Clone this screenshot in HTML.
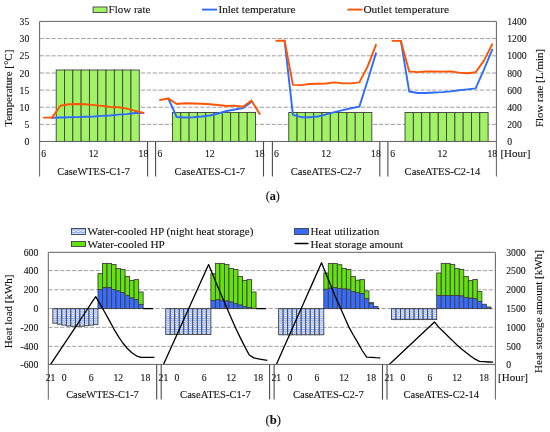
<!DOCTYPE html>
<html><head><meta charset="utf-8"><style>
html,body{margin:0;padding:0;background:#fff;}
svg{display:block;}
text{font-family:"Liberation Serif", "Times New Roman", serif;fill:#161616;stroke:#161616;stroke-width:0.12px;}
</style></head><body>
<svg width="550" height="432" viewBox="0 0 550 432">
<rect width="550" height="432" fill="#fff"/>
<defs>
<pattern id="hz" patternUnits="userSpaceOnUse" x="48.3" y="308.6" width="4.52" height="2.2">
<rect width="4.52" height="2.2" fill="#ffffff"/>
<path d="M0,0 L2.26,1.1 L4.52,0 L4.52,1.1 L2.26,2.2 L0,1.1 Z" fill="#76a0ff"/>
</pattern>
<pattern id="hzl" patternUnits="userSpaceOnUse" x="71.5" y="228.5" width="4.5" height="2.6">
<rect width="4.5" height="2.6" fill="#ffffff"/>
<path d="M0,0.4 L2.25,2 L4.5,0.4" fill="none" stroke="#6d98ff" stroke-width="1.1"/>
</pattern>
</defs>
<line x1="39.6" y1="124.35" x2="496.4" y2="124.35" stroke="#a0a0a0" stroke-width="1" stroke-dasharray="4.3 1.65"/>
<line x1="39.6" y1="107.25" x2="496.4" y2="107.25" stroke="#a0a0a0" stroke-width="1" stroke-dasharray="4.3 1.65"/>
<line x1="39.6" y1="90.1" x2="496.4" y2="90.1" stroke="#a0a0a0" stroke-width="1" stroke-dasharray="4.3 1.65"/>
<line x1="39.6" y1="73" x2="496.4" y2="73" stroke="#a0a0a0" stroke-width="1" stroke-dasharray="4.3 1.65"/>
<line x1="39.6" y1="55.8" x2="496.4" y2="55.8" stroke="#a0a0a0" stroke-width="1" stroke-dasharray="4.3 1.65"/>
<line x1="39.6" y1="38.55" x2="496.4" y2="38.55" stroke="#a0a0a0" stroke-width="1" stroke-dasharray="4.3 1.65"/>
<rect x="56.21" y="70" width="8.31" height="71.45" fill="#a2f266" stroke="#404040" stroke-width="0.9"/>
<rect x="64.52" y="70" width="8.31" height="71.45" fill="#a2f266" stroke="#404040" stroke-width="0.9"/>
<rect x="72.82" y="70" width="8.31" height="71.45" fill="#a2f266" stroke="#404040" stroke-width="0.9"/>
<rect x="81.13" y="70" width="8.31" height="71.45" fill="#a2f266" stroke="#404040" stroke-width="0.9"/>
<rect x="89.43" y="70" width="8.31" height="71.45" fill="#a2f266" stroke="#404040" stroke-width="0.9"/>
<rect x="97.74" y="70" width="8.31" height="71.45" fill="#a2f266" stroke="#404040" stroke-width="0.9"/>
<rect x="106.04" y="70" width="8.31" height="71.45" fill="#a2f266" stroke="#404040" stroke-width="0.9"/>
<rect x="114.35" y="70" width="8.31" height="71.45" fill="#a2f266" stroke="#404040" stroke-width="0.9"/>
<rect x="122.65" y="70" width="8.31" height="71.45" fill="#a2f266" stroke="#404040" stroke-width="0.9"/>
<rect x="130.96" y="70" width="8.31" height="71.45" fill="#a2f266" stroke="#404040" stroke-width="0.9"/>
<rect x="172.49" y="112.5" width="8.31" height="28.95" fill="#a2f266" stroke="#404040" stroke-width="0.9"/>
<rect x="180.79" y="112.5" width="8.31" height="28.95" fill="#a2f266" stroke="#404040" stroke-width="0.9"/>
<rect x="189.1" y="112.5" width="8.31" height="28.95" fill="#a2f266" stroke="#404040" stroke-width="0.9"/>
<rect x="197.4" y="112.5" width="8.31" height="28.95" fill="#a2f266" stroke="#404040" stroke-width="0.9"/>
<rect x="205.71" y="112.5" width="8.31" height="28.95" fill="#a2f266" stroke="#404040" stroke-width="0.9"/>
<rect x="214.01" y="112.5" width="8.31" height="28.95" fill="#a2f266" stroke="#404040" stroke-width="0.9"/>
<rect x="222.32" y="112.5" width="8.31" height="28.95" fill="#a2f266" stroke="#404040" stroke-width="0.9"/>
<rect x="230.63" y="112.5" width="8.31" height="28.95" fill="#a2f266" stroke="#404040" stroke-width="0.9"/>
<rect x="238.93" y="112.5" width="8.31" height="28.95" fill="#a2f266" stroke="#404040" stroke-width="0.9"/>
<rect x="247.24" y="112.5" width="8.31" height="28.95" fill="#a2f266" stroke="#404040" stroke-width="0.9"/>
<rect x="288.76" y="112.5" width="8.31" height="28.95" fill="#a2f266" stroke="#404040" stroke-width="0.9"/>
<rect x="297.07" y="112.5" width="8.31" height="28.95" fill="#a2f266" stroke="#404040" stroke-width="0.9"/>
<rect x="305.37" y="112.5" width="8.31" height="28.95" fill="#a2f266" stroke="#404040" stroke-width="0.9"/>
<rect x="313.68" y="112.5" width="8.31" height="28.95" fill="#a2f266" stroke="#404040" stroke-width="0.9"/>
<rect x="321.99" y="112.5" width="8.31" height="28.95" fill="#a2f266" stroke="#404040" stroke-width="0.9"/>
<rect x="330.29" y="112.5" width="8.31" height="28.95" fill="#a2f266" stroke="#404040" stroke-width="0.9"/>
<rect x="338.6" y="112.5" width="8.31" height="28.95" fill="#a2f266" stroke="#404040" stroke-width="0.9"/>
<rect x="346.9" y="112.5" width="8.31" height="28.95" fill="#a2f266" stroke="#404040" stroke-width="0.9"/>
<rect x="355.21" y="112.5" width="8.31" height="28.95" fill="#a2f266" stroke="#404040" stroke-width="0.9"/>
<rect x="363.51" y="112.5" width="8.31" height="28.95" fill="#a2f266" stroke="#404040" stroke-width="0.9"/>
<rect x="405.04" y="112.5" width="8.31" height="28.95" fill="#a2f266" stroke="#404040" stroke-width="0.9"/>
<rect x="413.35" y="112.5" width="8.31" height="28.95" fill="#a2f266" stroke="#404040" stroke-width="0.9"/>
<rect x="421.65" y="112.5" width="8.31" height="28.95" fill="#a2f266" stroke="#404040" stroke-width="0.9"/>
<rect x="429.96" y="112.5" width="8.31" height="28.95" fill="#a2f266" stroke="#404040" stroke-width="0.9"/>
<rect x="438.26" y="112.5" width="8.31" height="28.95" fill="#a2f266" stroke="#404040" stroke-width="0.9"/>
<rect x="446.57" y="112.5" width="8.31" height="28.95" fill="#a2f266" stroke="#404040" stroke-width="0.9"/>
<rect x="454.87" y="112.5" width="8.31" height="28.95" fill="#a2f266" stroke="#404040" stroke-width="0.9"/>
<rect x="463.18" y="112.5" width="8.31" height="28.95" fill="#a2f266" stroke="#404040" stroke-width="0.9"/>
<rect x="471.48" y="112.5" width="8.31" height="28.95" fill="#a2f266" stroke="#404040" stroke-width="0.9"/>
<rect x="479.79" y="112.5" width="8.31" height="28.95" fill="#a2f266" stroke="#404040" stroke-width="0.9"/>
<polyline points="52.06,117.7 60.36,117.5 68.67,117.3 76.97,117.1 85.28,116.8 93.59,116.5 101.89,115.9 110.2,115.5 118.5,114.6 126.81,114.1 135.11,113 143.42,113" fill="none" stroke="#2f6dff" stroke-width="1.9" stroke-linejoin="round" stroke-linecap="round"/>
<polyline points="168.33,98.5 176.64,117 184.95,117.5 193.25,117.2 201.56,116.5 209.86,115.5 218.17,113.5 226.47,111 234.78,109.5 243.08,108.1 251.39,102" fill="none" stroke="#2f6dff" stroke-width="1.9" stroke-linejoin="round" stroke-linecap="round"/>
<polyline points="284.61,40.8 292.92,114.9 301.22,117.2 309.53,117.2 317.83,116.5 326.14,114.3 334.44,112.1 342.75,110.1 351.05,108.3 359.36,106.6 367.67,80.5 375.97,53.1" fill="none" stroke="#2f6dff" stroke-width="1.9" stroke-linejoin="round" stroke-linecap="round"/>
<polyline points="400.89,40.9 409.19,91.5 417.5,93 425.8,93 434.11,92.5 442.41,92.1 450.72,91.4 459.03,90.3 467.33,89.4 475.64,88.4 483.94,69.6 492.25,49.6" fill="none" stroke="#2f6dff" stroke-width="1.9" stroke-linejoin="round" stroke-linecap="round"/>
<polyline points="43.75,117.6 52.06,117.6 60.36,105.8 68.67,104.2 76.97,104 85.28,104.3 93.59,105.1 101.89,105.9 110.2,107 118.5,107.3 126.81,108.6 135.11,110.8 143.42,113" fill="none" stroke="#ff5400" stroke-width="1.9" stroke-linejoin="round" stroke-linecap="round"/>
<polyline points="160.03,100 168.33,98.5 176.64,104 184.95,103.3 193.25,103.5 201.56,103.8 209.86,104.2 218.17,105 226.47,106 234.78,105.6 243.08,106.8 251.39,100.4 259.69,114" fill="none" stroke="#ff5400" stroke-width="1.9" stroke-linejoin="round" stroke-linecap="round"/>
<polyline points="276.31,40.8 284.61,40.8 292.92,84.9 301.22,85.1 309.53,84 317.83,83.8 326.14,83.5 334.44,82.4 342.75,83.4 351.05,83.4 359.36,82.4 367.67,66.4 375.97,44.8" fill="none" stroke="#ff5400" stroke-width="1.9" stroke-linejoin="round" stroke-linecap="round"/>
<polyline points="392.58,40.9 400.89,40.9 409.19,71.4 417.5,72.1 425.8,71.5 434.11,71.5 442.41,71.6 450.72,71.4 459.03,72.6 467.33,73.3 475.64,72.3 483.94,60.6 492.25,44.3" fill="none" stroke="#ff5400" stroke-width="1.9" stroke-linejoin="round" stroke-linecap="round"/>
<line x1="39.6" y1="21.4" x2="496.4" y2="21.4" stroke="#606060" stroke-width="1"/>
<line x1="39.6" y1="141.45" x2="496.4" y2="141.45" stroke="#606060" stroke-width="1"/>
<line x1="39.6" y1="21.4" x2="39.6" y2="176.5" stroke="#606060" stroke-width="1"/>
<line x1="496.4" y1="21.4" x2="496.4" y2="176.5" stroke="#606060" stroke-width="1"/>
<line x1="147.6" y1="141.45" x2="147.6" y2="176.5" stroke="#4a4a4a" stroke-width="1.1"/>
<line x1="155.6" y1="141.45" x2="155.6" y2="176.5" stroke="#4a4a4a" stroke-width="1.1"/>
<line x1="263.5" y1="141.45" x2="263.5" y2="176.5" stroke="#4a4a4a" stroke-width="1.1"/>
<line x1="272.4" y1="141.45" x2="272.4" y2="176.5" stroke="#4a4a4a" stroke-width="1.1"/>
<line x1="379.8" y1="141.45" x2="379.8" y2="176.5" stroke="#4a4a4a" stroke-width="1.1"/>
<line x1="387.9" y1="141.45" x2="387.9" y2="176.5" stroke="#4a4a4a" stroke-width="1.1"/>
<text x="29.3" y="144.95" text-anchor="end" textLength="4.85" lengthAdjust="spacingAndGlyphs" font-size="10.4">0</text>
<text x="29.3" y="127.85" text-anchor="end" textLength="4.85" lengthAdjust="spacingAndGlyphs" font-size="10.4">5</text>
<text x="29.3" y="110.75" text-anchor="end" textLength="9.7" lengthAdjust="spacingAndGlyphs" font-size="10.4">10</text>
<text x="29.3" y="93.6" text-anchor="end" textLength="9.7" lengthAdjust="spacingAndGlyphs" font-size="10.4">15</text>
<text x="29.3" y="76.5" text-anchor="end" textLength="9.7" lengthAdjust="spacingAndGlyphs" font-size="10.4">20</text>
<text x="29.3" y="59.3" text-anchor="end" textLength="9.7" lengthAdjust="spacingAndGlyphs" font-size="10.4">25</text>
<text x="29.3" y="42.05" text-anchor="end" textLength="9.7" lengthAdjust="spacingAndGlyphs" font-size="10.4">30</text>
<text x="29.3" y="24.9" text-anchor="end" textLength="9.7" lengthAdjust="spacingAndGlyphs" font-size="10.4">35</text>
<text x="507.2" y="144.95" textLength="4.85" lengthAdjust="spacingAndGlyphs" font-size="10.4">0</text>
<text x="507.2" y="127.85" textLength="14.55" lengthAdjust="spacingAndGlyphs" font-size="10.4">200</text>
<text x="507.2" y="110.75" textLength="14.55" lengthAdjust="spacingAndGlyphs" font-size="10.4">400</text>
<text x="507.2" y="93.6" textLength="14.55" lengthAdjust="spacingAndGlyphs" font-size="10.4">600</text>
<text x="507.2" y="76.5" textLength="14.55" lengthAdjust="spacingAndGlyphs" font-size="10.4">800</text>
<text x="507.2" y="59.3" textLength="19.4" lengthAdjust="spacingAndGlyphs" font-size="10.4">1000</text>
<text x="507.2" y="42.05" textLength="19.4" lengthAdjust="spacingAndGlyphs" font-size="10.4">1200</text>
<text x="507.2" y="24.9" textLength="19.4" lengthAdjust="spacingAndGlyphs" font-size="10.4">1400</text>
<text x="43.75" y="156.8" text-anchor="middle" textLength="4.85" lengthAdjust="spacingAndGlyphs" font-size="10.4">6</text>
<text x="93.59" y="156.8" text-anchor="middle" textLength="9.7" lengthAdjust="spacingAndGlyphs" font-size="10.4">12</text>
<text x="143.42" y="156.8" text-anchor="middle" textLength="9.7" lengthAdjust="spacingAndGlyphs" font-size="10.4">18</text>
<text x="160.03" y="156.8" text-anchor="middle" textLength="4.85" lengthAdjust="spacingAndGlyphs" font-size="10.4">6</text>
<text x="209.86" y="156.8" text-anchor="middle" textLength="9.7" lengthAdjust="spacingAndGlyphs" font-size="10.4">12</text>
<text x="259.69" y="156.8" text-anchor="middle" textLength="9.7" lengthAdjust="spacingAndGlyphs" font-size="10.4">18</text>
<text x="276.31" y="156.8" text-anchor="middle" textLength="4.85" lengthAdjust="spacingAndGlyphs" font-size="10.4">6</text>
<text x="326.14" y="156.8" text-anchor="middle" textLength="9.7" lengthAdjust="spacingAndGlyphs" font-size="10.4">12</text>
<text x="375.97" y="156.8" text-anchor="middle" textLength="9.7" lengthAdjust="spacingAndGlyphs" font-size="10.4">18</text>
<text x="392.58" y="156.8" text-anchor="middle" textLength="4.85" lengthAdjust="spacingAndGlyphs" font-size="10.4">6</text>
<text x="442.41" y="156.8" text-anchor="middle" textLength="9.7" lengthAdjust="spacingAndGlyphs" font-size="10.4">12</text>
<text x="492.25" y="156.8" text-anchor="middle" textLength="9.7" lengthAdjust="spacingAndGlyphs" font-size="10.4">18</text>
<text x="93.59" y="174.7" text-anchor="middle" textLength="72.6" lengthAdjust="spacingAndGlyphs" font-size="11.1">CaseWTES-C1-7</text>
<text x="209.86" y="174.7" text-anchor="middle" textLength="70.6" lengthAdjust="spacingAndGlyphs" font-size="11.1">CaseATES-C1-7</text>
<text x="326.14" y="174.7" text-anchor="middle" textLength="70.8" lengthAdjust="spacingAndGlyphs" font-size="11.1">CaseATES-C2-7</text>
<text x="442.41" y="174.7" text-anchor="middle" textLength="75.6" lengthAdjust="spacingAndGlyphs" font-size="11.1">CaseATES-C2-14</text>
<text x="500.4" y="157.2" textLength="30" lengthAdjust="spacingAndGlyphs" font-size="11.1">[Hour]</text>
<text transform="translate(12.3,88.2) rotate(-90)" text-anchor="middle" font-size="11.1" textLength="77" lengthAdjust="spacingAndGlyphs">Temperature [°C]</text>
<text transform="translate(543,88.05) rotate(-90)" text-anchor="middle" font-size="11.1" textLength="78.1" lengthAdjust="spacingAndGlyphs">Flow rate [L/min]</text>
<rect x="93.1" y="7" width="13.9" height="5.6" fill="#a2f266" stroke="#404040" stroke-width="0.9"/>
<text x="108.6" y="13.2" textLength="41.8" lengthAdjust="spacingAndGlyphs" font-size="11.1">Flow rate</text>
<line x1="202" y1="9.6" x2="217" y2="9.6" stroke="#2f6dff" stroke-width="1.9"/>
<text x="218.4" y="13.2" textLength="77" lengthAdjust="spacingAndGlyphs" font-size="11.1">Inlet temperature</text>
<line x1="347.4" y1="9.6" x2="362.6" y2="9.6" stroke="#ff5400" stroke-width="1.9"/>
<text x="363.4" y="13.2" textLength="85.6" lengthAdjust="spacingAndGlyphs" font-size="11.1">Outlet temperature</text>
<text x="272.8" y="199.5" text-anchor="middle" font-size="11.5" textLength="14.2" lengthAdjust="spacingAndGlyphs">(<tspan font-weight="bold">a</tspan>)</text>
<line x1="48.3" y1="270.6" x2="495.4" y2="270.6" stroke="#a0a0a0" stroke-width="1" stroke-dasharray="4.3 1.65"/>
<line x1="48.3" y1="289.8" x2="495.4" y2="289.8" stroke="#a0a0a0" stroke-width="1" stroke-dasharray="4.3 1.65"/>
<line x1="48.3" y1="308.6" x2="495.4" y2="308.6" stroke="#a0a0a0" stroke-width="1" stroke-dasharray="4.3 1.65"/>
<line x1="48.3" y1="327.3" x2="495.4" y2="327.3" stroke="#a0a0a0" stroke-width="1" stroke-dasharray="4.3 1.65"/>
<line x1="48.3" y1="346.3" x2="495.4" y2="346.3" stroke="#a0a0a0" stroke-width="1" stroke-dasharray="4.3 1.65"/>
<rect x="52.82" y="308.6" width="4.52" height="14.6" fill="url(#hz)" stroke="#404040" stroke-width="0.9"/>
<rect x="57.33" y="308.6" width="4.52" height="15.6" fill="url(#hz)" stroke="#404040" stroke-width="0.9"/>
<rect x="61.85" y="308.6" width="4.52" height="16.5" fill="url(#hz)" stroke="#404040" stroke-width="0.9"/>
<rect x="66.36" y="308.6" width="4.52" height="17.4" fill="url(#hz)" stroke="#404040" stroke-width="0.9"/>
<rect x="70.88" y="308.6" width="4.52" height="17.7" fill="url(#hz)" stroke="#404040" stroke-width="0.9"/>
<rect x="75.4" y="308.6" width="4.52" height="17.7" fill="url(#hz)" stroke="#404040" stroke-width="0.9"/>
<rect x="79.91" y="308.6" width="4.52" height="17.6" fill="url(#hz)" stroke="#404040" stroke-width="0.9"/>
<rect x="84.43" y="308.6" width="4.52" height="17.1" fill="url(#hz)" stroke="#404040" stroke-width="0.9"/>
<rect x="88.95" y="308.6" width="4.52" height="16.5" fill="url(#hz)" stroke="#404040" stroke-width="0.9"/>
<rect x="93.46" y="308.6" width="4.52" height="16" fill="url(#hz)" stroke="#404040" stroke-width="0.9"/>
<rect x="165.72" y="308.6" width="4.52" height="25.9" fill="url(#hz)" stroke="#404040" stroke-width="0.9"/>
<rect x="170.24" y="308.6" width="4.52" height="25.9" fill="url(#hz)" stroke="#404040" stroke-width="0.9"/>
<rect x="174.75" y="308.6" width="4.52" height="25.9" fill="url(#hz)" stroke="#404040" stroke-width="0.9"/>
<rect x="179.27" y="308.6" width="4.52" height="25.9" fill="url(#hz)" stroke="#404040" stroke-width="0.9"/>
<rect x="183.78" y="308.6" width="4.52" height="25.9" fill="url(#hz)" stroke="#404040" stroke-width="0.9"/>
<rect x="188.3" y="308.6" width="4.52" height="25.9" fill="url(#hz)" stroke="#404040" stroke-width="0.9"/>
<rect x="192.82" y="308.6" width="4.52" height="25.9" fill="url(#hz)" stroke="#404040" stroke-width="0.9"/>
<rect x="197.33" y="308.6" width="4.52" height="25.9" fill="url(#hz)" stroke="#404040" stroke-width="0.9"/>
<rect x="201.85" y="308.6" width="4.52" height="25.9" fill="url(#hz)" stroke="#404040" stroke-width="0.9"/>
<rect x="206.37" y="308.6" width="4.52" height="25.9" fill="url(#hz)" stroke="#404040" stroke-width="0.9"/>
<rect x="278.62" y="308.6" width="4.52" height="26.2" fill="url(#hz)" stroke="#404040" stroke-width="0.9"/>
<rect x="283.14" y="308.6" width="4.52" height="26.2" fill="url(#hz)" stroke="#404040" stroke-width="0.9"/>
<rect x="287.66" y="308.6" width="4.52" height="26.2" fill="url(#hz)" stroke="#404040" stroke-width="0.9"/>
<rect x="292.17" y="308.6" width="4.52" height="26.2" fill="url(#hz)" stroke="#404040" stroke-width="0.9"/>
<rect x="296.69" y="308.6" width="4.52" height="26.2" fill="url(#hz)" stroke="#404040" stroke-width="0.9"/>
<rect x="301.21" y="308.6" width="4.52" height="26.2" fill="url(#hz)" stroke="#404040" stroke-width="0.9"/>
<rect x="305.72" y="308.6" width="4.52" height="26.2" fill="url(#hz)" stroke="#404040" stroke-width="0.9"/>
<rect x="310.24" y="308.6" width="4.52" height="26.2" fill="url(#hz)" stroke="#404040" stroke-width="0.9"/>
<rect x="314.75" y="308.6" width="4.52" height="26.2" fill="url(#hz)" stroke="#404040" stroke-width="0.9"/>
<rect x="319.27" y="308.6" width="4.52" height="26.2" fill="url(#hz)" stroke="#404040" stroke-width="0.9"/>
<rect x="391.53" y="308.6" width="4.52" height="11" fill="url(#hz)" stroke="#404040" stroke-width="0.9"/>
<rect x="396.04" y="308.6" width="4.52" height="11" fill="url(#hz)" stroke="#404040" stroke-width="0.9"/>
<rect x="400.56" y="308.6" width="4.52" height="11" fill="url(#hz)" stroke="#404040" stroke-width="0.9"/>
<rect x="405.08" y="308.6" width="4.52" height="11" fill="url(#hz)" stroke="#404040" stroke-width="0.9"/>
<rect x="409.59" y="308.6" width="4.52" height="11" fill="url(#hz)" stroke="#404040" stroke-width="0.9"/>
<rect x="414.11" y="308.6" width="4.52" height="11" fill="url(#hz)" stroke="#404040" stroke-width="0.9"/>
<rect x="418.63" y="308.6" width="4.52" height="11" fill="url(#hz)" stroke="#404040" stroke-width="0.9"/>
<rect x="423.14" y="308.6" width="4.52" height="11" fill="url(#hz)" stroke="#404040" stroke-width="0.9"/>
<rect x="427.66" y="308.6" width="4.52" height="11" fill="url(#hz)" stroke="#404040" stroke-width="0.9"/>
<rect x="432.17" y="308.6" width="4.52" height="11" fill="url(#hz)" stroke="#404040" stroke-width="0.9"/>
<rect x="97.98" y="289.6" width="4.52" height="19" fill="#376cff" stroke="#404040" stroke-width="0.9"/>
<rect x="97.98" y="273.6" width="4.52" height="16" fill="#62e30a" stroke="#404040" stroke-width="0.9"/>
<rect x="102.49" y="287.4" width="4.52" height="21.2" fill="#376cff" stroke="#404040" stroke-width="0.9"/>
<rect x="102.49" y="263.4" width="4.52" height="24" fill="#62e30a" stroke="#404040" stroke-width="0.9"/>
<rect x="107.01" y="287.6" width="4.52" height="21" fill="#376cff" stroke="#404040" stroke-width="0.9"/>
<rect x="107.01" y="263.4" width="4.52" height="24.2" fill="#62e30a" stroke="#404040" stroke-width="0.9"/>
<rect x="111.53" y="289.5" width="4.52" height="19.1" fill="#376cff" stroke="#404040" stroke-width="0.9"/>
<rect x="111.53" y="264.5" width="4.52" height="25" fill="#62e30a" stroke="#404040" stroke-width="0.9"/>
<rect x="116.04" y="290.8" width="4.52" height="17.8" fill="#376cff" stroke="#404040" stroke-width="0.9"/>
<rect x="116.04" y="268.4" width="4.52" height="22.4" fill="#62e30a" stroke="#404040" stroke-width="0.9"/>
<rect x="120.56" y="292.6" width="4.52" height="16" fill="#376cff" stroke="#404040" stroke-width="0.9"/>
<rect x="120.56" y="269.6" width="4.52" height="23" fill="#62e30a" stroke="#404040" stroke-width="0.9"/>
<rect x="125.07" y="295.3" width="4.52" height="13.3" fill="#376cff" stroke="#404040" stroke-width="0.9"/>
<rect x="125.07" y="276.5" width="4.52" height="18.8" fill="#62e30a" stroke="#404040" stroke-width="0.9"/>
<rect x="129.59" y="297.8" width="4.52" height="10.8" fill="#376cff" stroke="#404040" stroke-width="0.9"/>
<rect x="129.59" y="280.5" width="4.52" height="17.3" fill="#62e30a" stroke="#404040" stroke-width="0.9"/>
<rect x="134.11" y="299.5" width="4.52" height="9.1" fill="#376cff" stroke="#404040" stroke-width="0.9"/>
<rect x="134.11" y="279.6" width="4.52" height="19.9" fill="#62e30a" stroke="#404040" stroke-width="0.9"/>
<rect x="138.62" y="304.5" width="4.52" height="4.1" fill="#376cff" stroke="#404040" stroke-width="0.9"/>
<rect x="138.62" y="292" width="4.52" height="12.5" fill="#62e30a" stroke="#404040" stroke-width="0.9"/>
<line x1="143.14" y1="308.6" x2="153.07" y2="308.6" stroke="#000" stroke-width="1.3"/>
<rect x="210.88" y="300.5" width="4.52" height="8.1" fill="#376cff" stroke="#404040" stroke-width="0.9"/>
<rect x="210.88" y="273.6" width="4.52" height="26.9" fill="#62e30a" stroke="#404040" stroke-width="0.9"/>
<rect x="215.4" y="299.6" width="4.52" height="9" fill="#376cff" stroke="#404040" stroke-width="0.9"/>
<rect x="215.4" y="263.4" width="4.52" height="36.2" fill="#62e30a" stroke="#404040" stroke-width="0.9"/>
<rect x="219.91" y="300.1" width="4.52" height="8.5" fill="#376cff" stroke="#404040" stroke-width="0.9"/>
<rect x="219.91" y="263.4" width="4.52" height="36.7" fill="#62e30a" stroke="#404040" stroke-width="0.9"/>
<rect x="224.43" y="300.8" width="4.52" height="7.8" fill="#376cff" stroke="#404040" stroke-width="0.9"/>
<rect x="224.43" y="264.5" width="4.52" height="36.3" fill="#62e30a" stroke="#404040" stroke-width="0.9"/>
<rect x="228.95" y="301.8" width="4.52" height="6.8" fill="#376cff" stroke="#404040" stroke-width="0.9"/>
<rect x="228.95" y="268.4" width="4.52" height="33.4" fill="#62e30a" stroke="#404040" stroke-width="0.9"/>
<rect x="233.46" y="303.6" width="4.52" height="5" fill="#376cff" stroke="#404040" stroke-width="0.9"/>
<rect x="233.46" y="269.5" width="4.52" height="34.1" fill="#62e30a" stroke="#404040" stroke-width="0.9"/>
<rect x="237.98" y="304.9" width="4.52" height="3.7" fill="#376cff" stroke="#404040" stroke-width="0.9"/>
<rect x="237.98" y="276.5" width="4.52" height="28.4" fill="#62e30a" stroke="#404040" stroke-width="0.9"/>
<rect x="242.49" y="306.5" width="4.52" height="2.1" fill="#376cff" stroke="#404040" stroke-width="0.9"/>
<rect x="242.49" y="280.5" width="4.52" height="26" fill="#62e30a" stroke="#404040" stroke-width="0.9"/>
<rect x="247.01" y="307.6" width="4.52" height="1" fill="#376cff" stroke="#404040" stroke-width="0.9"/>
<rect x="247.01" y="279.6" width="4.52" height="28" fill="#62e30a" stroke="#404040" stroke-width="0.9"/>
<rect x="251.53" y="308.3" width="4.52" height="0.3" fill="#376cff" stroke="#404040" stroke-width="0.9"/>
<rect x="251.53" y="292" width="4.52" height="16.3" fill="#62e30a" stroke="#404040" stroke-width="0.9"/>
<line x1="256.04" y1="308.6" x2="265.98" y2="308.6" stroke="#000" stroke-width="1.3"/>
<rect x="323.79" y="289.2" width="4.52" height="19.4" fill="#376cff" stroke="#404040" stroke-width="0.9"/>
<rect x="323.79" y="273" width="4.52" height="16.2" fill="#62e30a" stroke="#404040" stroke-width="0.9"/>
<rect x="328.3" y="288" width="4.52" height="20.6" fill="#376cff" stroke="#404040" stroke-width="0.9"/>
<rect x="328.3" y="263.4" width="4.52" height="24.6" fill="#62e30a" stroke="#404040" stroke-width="0.9"/>
<rect x="332.82" y="287.6" width="4.52" height="21" fill="#376cff" stroke="#404040" stroke-width="0.9"/>
<rect x="332.82" y="263.4" width="4.52" height="24.2" fill="#62e30a" stroke="#404040" stroke-width="0.9"/>
<rect x="337.33" y="288.4" width="4.52" height="20.2" fill="#376cff" stroke="#404040" stroke-width="0.9"/>
<rect x="337.33" y="264.7" width="4.52" height="23.7" fill="#62e30a" stroke="#404040" stroke-width="0.9"/>
<rect x="341.85" y="288.8" width="4.52" height="19.8" fill="#376cff" stroke="#404040" stroke-width="0.9"/>
<rect x="341.85" y="268.4" width="4.52" height="20.4" fill="#62e30a" stroke="#404040" stroke-width="0.9"/>
<rect x="346.37" y="289.2" width="4.52" height="19.4" fill="#376cff" stroke="#404040" stroke-width="0.9"/>
<rect x="346.37" y="269.5" width="4.52" height="19.7" fill="#62e30a" stroke="#404040" stroke-width="0.9"/>
<rect x="350.88" y="291.4" width="4.52" height="17.2" fill="#376cff" stroke="#404040" stroke-width="0.9"/>
<rect x="350.88" y="276.5" width="4.52" height="14.9" fill="#62e30a" stroke="#404040" stroke-width="0.9"/>
<rect x="355.4" y="292.4" width="4.52" height="16.2" fill="#376cff" stroke="#404040" stroke-width="0.9"/>
<rect x="355.4" y="280.2" width="4.52" height="12.2" fill="#62e30a" stroke="#404040" stroke-width="0.9"/>
<rect x="359.92" y="293.4" width="4.52" height="15.2" fill="#376cff" stroke="#404040" stroke-width="0.9"/>
<rect x="359.92" y="279.6" width="4.52" height="13.8" fill="#62e30a" stroke="#404040" stroke-width="0.9"/>
<rect x="364.43" y="298.6" width="4.52" height="10" fill="#376cff" stroke="#404040" stroke-width="0.9"/>
<rect x="364.43" y="290.9" width="4.52" height="7.7" fill="#62e30a" stroke="#404040" stroke-width="0.9"/>
<rect x="368.95" y="303.6" width="4.52" height="5" fill="#376cff" stroke="#404040" stroke-width="0.9"/>
<rect x="368.95" y="302.6" width="4.52" height="1" fill="#62e30a" stroke="#404040" stroke-width="0.9"/>
<rect x="373.46" y="306.5" width="4.52" height="2.1" fill="#376cff" stroke="#404040" stroke-width="0.9"/>
<line x1="377.98" y1="308.6" x2="378.88" y2="308.6" stroke="#000" stroke-width="1.3"/>
<rect x="436.69" y="295.5" width="4.52" height="13.1" fill="#376cff" stroke="#404040" stroke-width="0.9"/>
<rect x="436.69" y="273" width="4.52" height="22.5" fill="#62e30a" stroke="#404040" stroke-width="0.9"/>
<rect x="441.21" y="295.5" width="4.52" height="13.1" fill="#376cff" stroke="#404040" stroke-width="0.9"/>
<rect x="441.21" y="263.4" width="4.52" height="32.1" fill="#62e30a" stroke="#404040" stroke-width="0.9"/>
<rect x="445.72" y="295.5" width="4.52" height="13.1" fill="#376cff" stroke="#404040" stroke-width="0.9"/>
<rect x="445.72" y="263.4" width="4.52" height="32.1" fill="#62e30a" stroke="#404040" stroke-width="0.9"/>
<rect x="450.24" y="295.5" width="4.52" height="13.1" fill="#376cff" stroke="#404040" stroke-width="0.9"/>
<rect x="450.24" y="264.5" width="4.52" height="31" fill="#62e30a" stroke="#404040" stroke-width="0.9"/>
<rect x="454.75" y="295.5" width="4.52" height="13.1" fill="#376cff" stroke="#404040" stroke-width="0.9"/>
<rect x="454.75" y="268.4" width="4.52" height="27.1" fill="#62e30a" stroke="#404040" stroke-width="0.9"/>
<rect x="459.27" y="295.8" width="4.52" height="12.8" fill="#376cff" stroke="#404040" stroke-width="0.9"/>
<rect x="459.27" y="269.5" width="4.52" height="26.3" fill="#62e30a" stroke="#404040" stroke-width="0.9"/>
<rect x="463.79" y="297.4" width="4.52" height="11.2" fill="#376cff" stroke="#404040" stroke-width="0.9"/>
<rect x="463.79" y="276.5" width="4.52" height="20.9" fill="#62e30a" stroke="#404040" stroke-width="0.9"/>
<rect x="468.3" y="298" width="4.52" height="10.6" fill="#376cff" stroke="#404040" stroke-width="0.9"/>
<rect x="468.3" y="280.5" width="4.52" height="17.5" fill="#62e30a" stroke="#404040" stroke-width="0.9"/>
<rect x="472.82" y="298.4" width="4.52" height="10.2" fill="#376cff" stroke="#404040" stroke-width="0.9"/>
<rect x="472.82" y="279.5" width="4.52" height="18.9" fill="#62e30a" stroke="#404040" stroke-width="0.9"/>
<rect x="477.34" y="301.4" width="4.52" height="7.2" fill="#376cff" stroke="#404040" stroke-width="0.9"/>
<rect x="477.34" y="291.5" width="4.52" height="9.9" fill="#62e30a" stroke="#404040" stroke-width="0.9"/>
<rect x="481.85" y="304.3" width="4.52" height="4.3" fill="#376cff" stroke="#404040" stroke-width="0.9"/>
<rect x="486.37" y="307" width="4.52" height="1.6" fill="#376cff" stroke="#404040" stroke-width="0.9"/>
<line x1="490.88" y1="308.6" x2="491.34" y2="308.6" stroke="#000" stroke-width="1.3"/>
<polyline points="50.56,364.4 55.07,357.63 59.59,350.86 64.11,344.09 68.62,337.32 73.14,330.55 77.66,323.78 82.17,317.01 86.69,310.24 91.2,303.47 95.72,296.7 100.24,304.3 104.75,312.2 109.27,320.4 113.78,328.8 118.3,336.4 122.82,343 127.33,348.5 131.85,352.8 136.37,355.8 140.88,357.4 145.4,357.4 149.91,357.4 154.43,357.4" fill="none" stroke="#000" stroke-width="1.3" stroke-linejoin="round"/>
<polyline points="163.46,364.4 167.98,354.42 172.49,344.44 177.01,334.46 181.53,324.48 186.04,314.5 190.56,304.52 195.08,294.54 199.59,284.56 204.11,274.58 208.62,264.6 213.14,275.6 217.66,286.4 222.17,297.1 226.69,307.5 231.2,318 235.72,328.2 240.24,337.6 244.75,346.6 249.27,355 253.79,357.9 258.3,358.8 262.82,359.6 267.33,360.4" fill="none" stroke="#000" stroke-width="1.3" stroke-linejoin="round"/>
<polyline points="276.37,364.4 280.88,354.24 285.4,344.08 289.91,333.92 294.43,323.76 298.95,313.6 303.46,303.44 307.98,293.28 312.5,283.12 317.01,272.96 321.53,262.8 326.04,274 330.56,285 335.08,296 339.59,306 344.11,316.3 348.62,326.6 353.14,334.7 357.66,342.4 362.17,350.5 366.69,357.1 371.21,357.3 375.72,357.6 380.24,357.8" fill="none" stroke="#000" stroke-width="1.3" stroke-linejoin="round"/>
<polyline points="389.27,364.4 393.79,360.16 398.3,355.92 402.82,351.68 407.33,347.44 411.85,343.2 416.37,338.96 420.88,334.72 425.4,330.48 429.92,326.24 434.43,322 438.95,327.4 443.46,331.8 447.98,336.2 452.5,340.6 457.01,345 461.53,349 466.04,352.6 470.56,356 475.08,359.2 479.59,361.4 484.11,361.7 488.63,362 493.14,362.2" fill="none" stroke="#000" stroke-width="1.3" stroke-linejoin="round"/>
<line x1="48.3" y1="252.3" x2="495.4" y2="252.3" stroke="#606060" stroke-width="1"/>
<line x1="48.3" y1="364.4" x2="495.4" y2="364.4" stroke="#606060" stroke-width="1"/>
<line x1="48.3" y1="252.3" x2="48.3" y2="399.6" stroke="#606060" stroke-width="1"/>
<line x1="495.4" y1="252.3" x2="495.4" y2="399.6" stroke="#606060" stroke-width="1"/>
<line x1="156.69" y1="364.4" x2="156.69" y2="399.6" stroke="#4a4a4a" stroke-width="1.1"/>
<line x1="161.2" y1="364.4" x2="161.2" y2="399.6" stroke="#4a4a4a" stroke-width="1.1"/>
<line x1="269.59" y1="364.4" x2="269.59" y2="399.6" stroke="#4a4a4a" stroke-width="1.1"/>
<line x1="274.11" y1="364.4" x2="274.11" y2="399.6" stroke="#4a4a4a" stroke-width="1.1"/>
<line x1="382.5" y1="364.4" x2="382.5" y2="399.6" stroke="#4a4a4a" stroke-width="1.1"/>
<line x1="387.01" y1="364.4" x2="387.01" y2="399.6" stroke="#4a4a4a" stroke-width="1.1"/>
<text x="38.3" y="255.8" text-anchor="end" textLength="14.55" lengthAdjust="spacingAndGlyphs" font-size="10.4">600</text>
<text x="38.3" y="274.1" text-anchor="end" textLength="14.55" lengthAdjust="spacingAndGlyphs" font-size="10.4">400</text>
<text x="38.3" y="293.3" text-anchor="end" textLength="14.55" lengthAdjust="spacingAndGlyphs" font-size="10.4">200</text>
<text x="38.3" y="312.1" text-anchor="end" textLength="4.85" lengthAdjust="spacingAndGlyphs" font-size="10.4">0</text>
<text x="38.3" y="330.8" text-anchor="end" textLength="17.85" lengthAdjust="spacingAndGlyphs" font-size="10.4">-200</text>
<text x="38.3" y="349.8" text-anchor="end" textLength="17.85" lengthAdjust="spacingAndGlyphs" font-size="10.4">-400</text>
<text x="38.3" y="367.9" text-anchor="end" textLength="17.85" lengthAdjust="spacingAndGlyphs" font-size="10.4">-600</text>
<text x="506.2" y="255.8" textLength="19.4" lengthAdjust="spacingAndGlyphs" font-size="10.4">3000</text>
<text x="506.2" y="274.1" textLength="19.4" lengthAdjust="spacingAndGlyphs" font-size="10.4">2500</text>
<text x="506.2" y="293.3" textLength="19.4" lengthAdjust="spacingAndGlyphs" font-size="10.4">2000</text>
<text x="506.2" y="312.1" textLength="19.4" lengthAdjust="spacingAndGlyphs" font-size="10.4">1500</text>
<text x="506.2" y="330.8" textLength="19.4" lengthAdjust="spacingAndGlyphs" font-size="10.4">1000</text>
<text x="506.2" y="349.8" textLength="14.55" lengthAdjust="spacingAndGlyphs" font-size="10.4">500</text>
<text x="506.2" y="367.9" textLength="4.85" lengthAdjust="spacingAndGlyphs" font-size="10.4">0</text>
<text x="50.56" y="380.5" text-anchor="middle" textLength="9.7" lengthAdjust="spacingAndGlyphs" font-size="10.4">21</text>
<text x="64.11" y="380.5" text-anchor="middle" textLength="4.85" lengthAdjust="spacingAndGlyphs" font-size="10.4">0</text>
<text x="91.2" y="380.5" text-anchor="middle" textLength="4.85" lengthAdjust="spacingAndGlyphs" font-size="10.4">6</text>
<text x="118.3" y="380.5" text-anchor="middle" textLength="9.7" lengthAdjust="spacingAndGlyphs" font-size="10.4">12</text>
<text x="145.4" y="380.5" text-anchor="middle" textLength="9.7" lengthAdjust="spacingAndGlyphs" font-size="10.4">18</text>
<text x="163.46" y="380.5" text-anchor="middle" textLength="9.7" lengthAdjust="spacingAndGlyphs" font-size="10.4">21</text>
<text x="177.01" y="380.5" text-anchor="middle" textLength="4.85" lengthAdjust="spacingAndGlyphs" font-size="10.4">0</text>
<text x="204.11" y="380.5" text-anchor="middle" textLength="4.85" lengthAdjust="spacingAndGlyphs" font-size="10.4">6</text>
<text x="231.2" y="380.5" text-anchor="middle" textLength="9.7" lengthAdjust="spacingAndGlyphs" font-size="10.4">12</text>
<text x="258.3" y="380.5" text-anchor="middle" textLength="9.7" lengthAdjust="spacingAndGlyphs" font-size="10.4">18</text>
<text x="276.37" y="380.5" text-anchor="middle" textLength="9.7" lengthAdjust="spacingAndGlyphs" font-size="10.4">21</text>
<text x="289.91" y="380.5" text-anchor="middle" textLength="4.85" lengthAdjust="spacingAndGlyphs" font-size="10.4">0</text>
<text x="317.01" y="380.5" text-anchor="middle" textLength="4.85" lengthAdjust="spacingAndGlyphs" font-size="10.4">6</text>
<text x="344.11" y="380.5" text-anchor="middle" textLength="9.7" lengthAdjust="spacingAndGlyphs" font-size="10.4">12</text>
<text x="371.21" y="380.5" text-anchor="middle" textLength="9.7" lengthAdjust="spacingAndGlyphs" font-size="10.4">18</text>
<text x="389.27" y="380.5" text-anchor="middle" textLength="9.7" lengthAdjust="spacingAndGlyphs" font-size="10.4">21</text>
<text x="402.82" y="380.5" text-anchor="middle" textLength="4.85" lengthAdjust="spacingAndGlyphs" font-size="10.4">0</text>
<text x="429.92" y="380.5" text-anchor="middle" textLength="4.85" lengthAdjust="spacingAndGlyphs" font-size="10.4">6</text>
<text x="457.01" y="380.5" text-anchor="middle" textLength="9.7" lengthAdjust="spacingAndGlyphs" font-size="10.4">12</text>
<text x="484.11" y="380.5" text-anchor="middle" textLength="9.7" lengthAdjust="spacingAndGlyphs" font-size="10.4">18</text>
<text x="102.49" y="398.2" text-anchor="middle" textLength="72.6" lengthAdjust="spacingAndGlyphs" font-size="11.1">CaseWTES-C1-7</text>
<text x="215.4" y="398.2" text-anchor="middle" textLength="70.6" lengthAdjust="spacingAndGlyphs" font-size="11.1">CaseATES-C1-7</text>
<text x="328.3" y="398.2" text-anchor="middle" textLength="70.8" lengthAdjust="spacingAndGlyphs" font-size="11.1">CaseATES-C2-7</text>
<text x="441.21" y="398.2" text-anchor="middle" textLength="75.6" lengthAdjust="spacingAndGlyphs" font-size="11.1">CaseATES-C2-14</text>
<text x="498" y="380.5" textLength="30" lengthAdjust="spacingAndGlyphs" font-size="11.1">[Hour]</text>
<text transform="translate(12.2,311.4) rotate(-90)" text-anchor="middle" font-size="11.1" textLength="73.6" lengthAdjust="spacingAndGlyphs">Heat load [kWh]</text>
<text transform="translate(542.2,311.5) rotate(-90)" text-anchor="middle" font-size="11.1" textLength="122.8" lengthAdjust="spacingAndGlyphs">Heat storage amount [kWh]</text>
<rect x="71.5" y="228.5" width="14" height="6" fill="url(#hzl)" stroke="#404040" stroke-width="0.9"/>
<text x="87.5" y="234.5" textLength="165.9" lengthAdjust="spacingAndGlyphs" font-size="11.1">Water-cooled HP (night heat storage)</text>
<rect x="71.5" y="241.5" width="14" height="5" fill="#62e30a" stroke="#404040" stroke-width="0.9"/>
<text x="87.5" y="247.5" textLength="77.3" lengthAdjust="spacingAndGlyphs" font-size="11.1">Water-cooled HP</text>
<rect x="294.5" y="228.5" width="14" height="6" fill="#376cff" stroke="#404040" stroke-width="0.9"/>
<text x="310.5" y="234.5" textLength="68.7" lengthAdjust="spacingAndGlyphs" font-size="11.1">Heat utilization</text>
<line x1="294.5" y1="243.5" x2="308.5" y2="243.5" stroke="#000" stroke-width="1.5"/>
<text x="310.5" y="247.5" textLength="92.7" lengthAdjust="spacingAndGlyphs" font-size="11.1">Heat storage amount</text>
<text x="273.25" y="423.9" text-anchor="middle" font-size="11.5" textLength="15.5" lengthAdjust="spacingAndGlyphs">(<tspan font-weight="bold">b</tspan>)</text>
</svg>
</body></html>
